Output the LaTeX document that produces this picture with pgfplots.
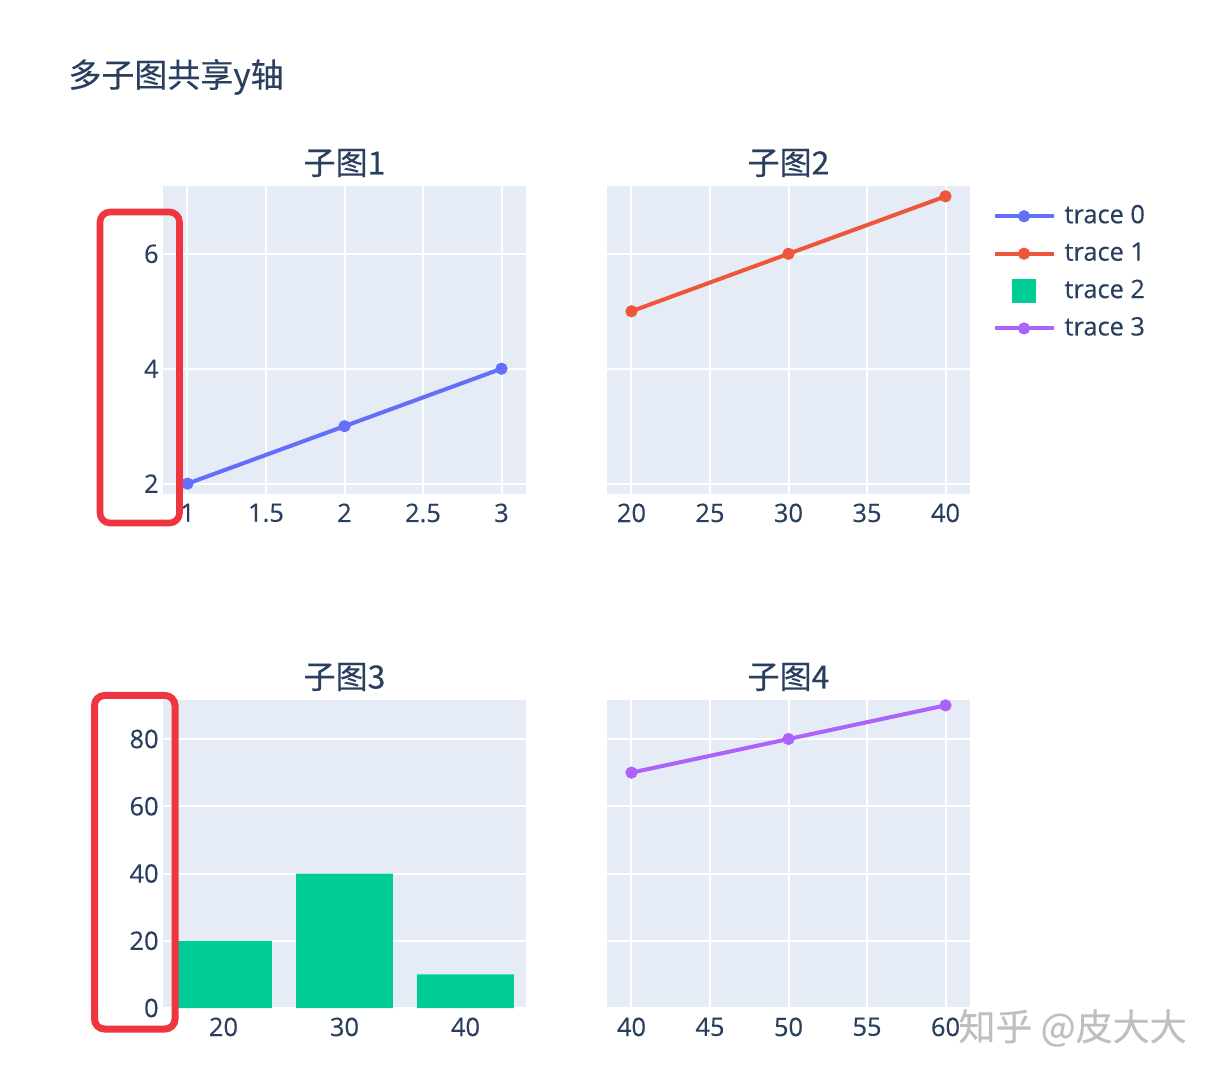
\documentclass[border=0pt]{standalone}
\usepackage{fontspec}
\setmainfont{Open Sans}
\newfontfamily\tf{Open Sans}[FakeBold=0.35]
\newfontfamily\cjk{Noto Sans CJK SC}[FakeBold=0.3]
\usepackage{pgfplots}
\pgfplotsset{compat=1.18}

\definecolor{bgc}{HTML}{E5ECF6}
\definecolor{txt}{HTML}{2A3F5F}
\definecolor{c0}{HTML}{636EFA}
\definecolor{c1}{HTML}{EF553B}
\definecolor{c2}{HTML}{00CC96}
\definecolor{c3}{HTML}{AB63FA}
\definecolor{ann}{HTML}{EE3540}

\pgfplotsset{
  sub/.style={
    scale only axis, width=181.5pt, height=154pt,
    anchor=north west,
    axis background/.style={fill=bgc},
    axis line style={draw=none},
    major tick length=0pt,
    grid=major,
    grid style={white, line width=1pt},
    /pgf/number format/assume math mode=true,
    tick label style={font=\tf\fontsize{12.7}{14}\selectfont, text=txt},
    xticklabel style={anchor=north, inner sep=0pt, yshift=-4.6pt},
    yticklabel style={anchor=east, inner sep=0pt, xshift=-2pt},
    title style={font=\cjk\fontsize{16}{18}\selectfont, text=txt, at={(0.5,1)}, anchor=center, yshift=5.5pt, inner sep=0pt},
    clip=false,
  },
  ln/.style={line width=2pt, mark=*, mark size=2.8pt, mark options={solid, line width=0.5pt},
    legend image code/.code={\draw[mark repeat=2,mark phase=2] plot coordinates {(0pt,0pt)(14.75pt,0pt)(29.5pt,0pt)};}},
}

\begin{document}
\begin{tikzpicture}
\path[use as bounding box] (0pt,0pt) rectangle (608.5pt,-540pt);

\begin{axis}[sub, at={(81.5pt,-93pt)}, title={子图1},
  xmin=0.844, xmax=3.156, ymin=1.82, ymax=7.18,
  xtick={1,1.5,2,2.5,3}, ytick={2,4,6}]
\addplot[ln, c0] coordinates {(1,2)(2,3)(3,4)};
\end{axis}

\begin{axis}[sub, at={(303.5pt,-93pt)}, title={子图2},
  xmin=18.44, xmax=41.56, ymin=1.82, ymax=7.18,
  xtick={20,25,...,40}, ytick={2,4,6}, yticklabels={},
  legend cell align=left,
  legend style={draw=none, fill=none, at={(1.061,0.942)}, anchor=north west,
    inner xsep=0pt, inner ysep=0pt, row sep=6.7pt,
    font=\tf\fontsize{12.7}{14}\selectfont, text=txt,
    nodes={inner sep=0pt, text height=9.5pt, text depth=2.5pt},
    /tikz/every odd column/.append style={column sep=4.5pt}}]
\addlegendimage{ln, c0}
\addlegendentry{trace 0}
\addplot[ln, c1] coordinates {(20,5)(30,6)(40,7)};
\addlegendentry{trace 1}
\addlegendimage{legend image code/.code={\fill[c2] (9pt,-5.75pt) rectangle (20.5pt,5.75pt);}}
\addlegendentry{trace 2}
\addlegendimage{ln, c3}
\addlegendentry{trace 3}
\end{axis}

\begin{axis}[sub, at={(81.5pt,-350pt)}, title={子图3},
  xmin=15, xmax=45, ymin=0, ymax=91.6,
  xtick={20,30,40}, ytick={0,20,...,80}, xmajorgrids=false, ymajorgrids=true]
\addplot[ybar, bar width=8, bar shift=0pt, fill=c2, draw=none] coordinates {(20,20)(30,40)(40,10)};
\end{axis}

\begin{axis}[sub, at={(303.5pt,-350pt)}, title={子图4},
  xmin=38.44, xmax=61.56, ymin=0, ymax=91.6,
  xtick={40,45,...,60}, ytick={0,20,...,80}, yticklabels={}]
\addplot[ln, c3] coordinates {(40,70)(50,80)(60,90)};
\end{axis}

\begin{scope}[x=0.5pt,y=-0.5pt]
\node[anchor=west, inner sep=0pt, font=\cjk\fontsize{16.5}{20}\selectfont, text=txt] at (68,77) {多子图共享y轴};
\draw[ann, line width=3.3pt, rounded corners=5pt] (100,212) rectangle (179.5,523);
\draw[ann, line width=3.5pt, rounded corners=5pt] (94.5,695.5) rectangle (175,1029);
\node[anchor=west, inner sep=0pt, font=\cjk\fontsize{18.5}{20}\selectfont, text=gray!50] at (958,1028) {知乎 @皮大大};
\end{scope}
\end{tikzpicture}
\end{document}
